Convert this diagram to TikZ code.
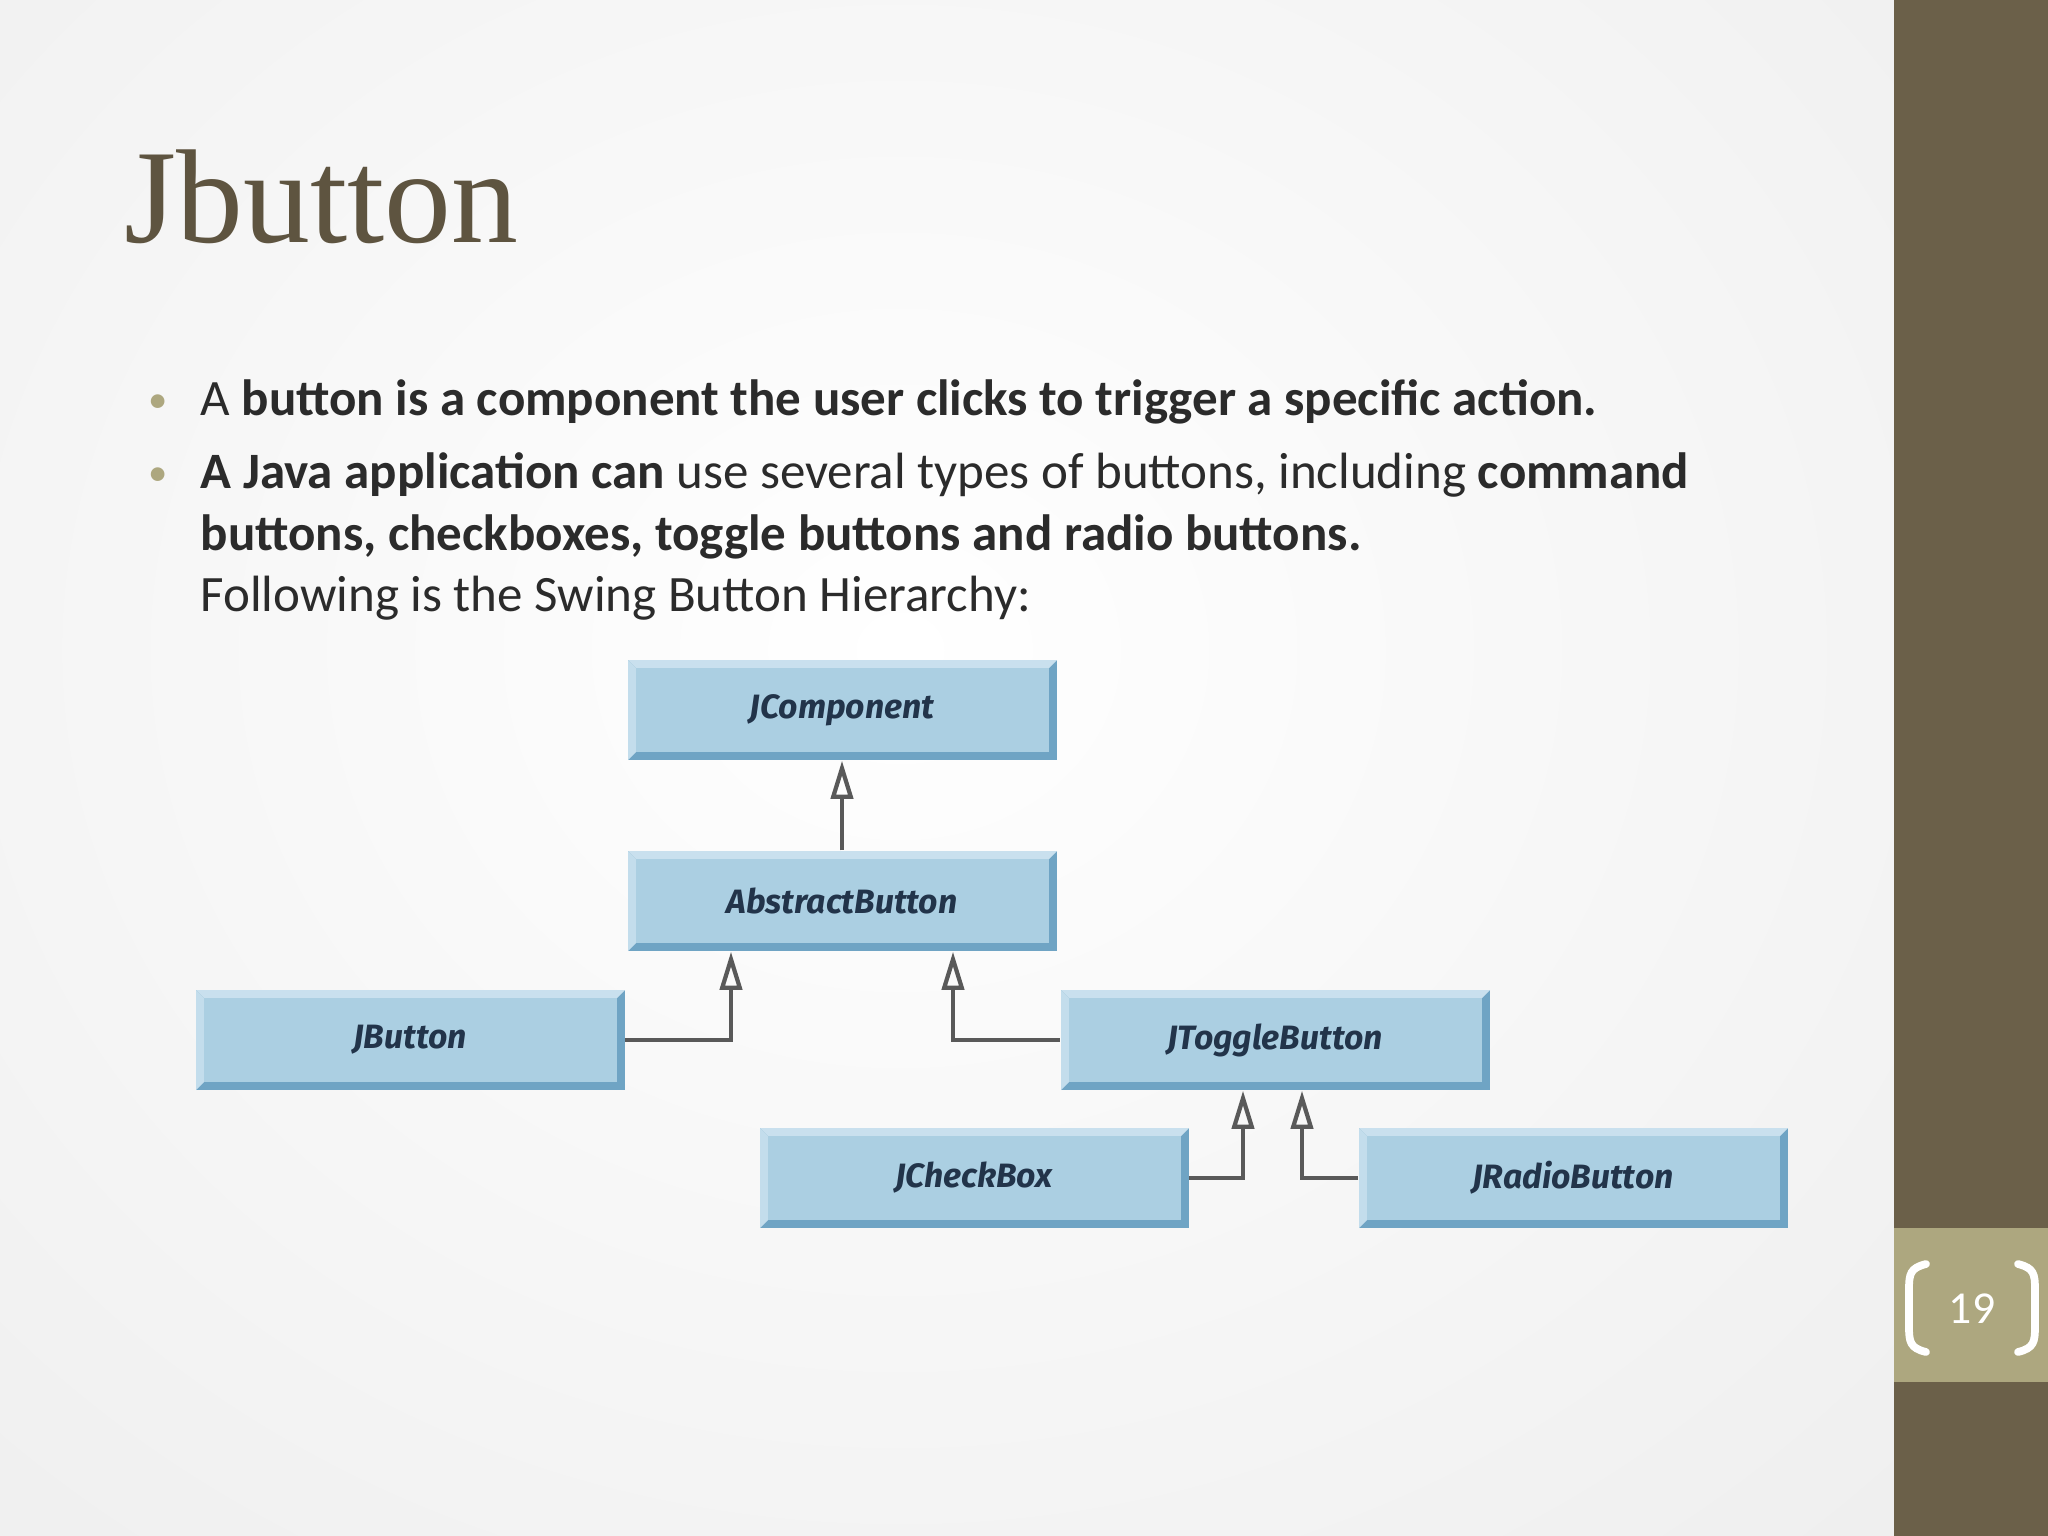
\documentclass[tikz,border=0pt]{standalone}
\usepackage{fontspec}
\setmainfont{Carlito}
\newfontfamily\titlefont{Liberation Serif}
\newfontfamily\boxfont{Fira Sans}
\usetikzlibrary{arrows.meta}
\definecolor{olivedark}{HTML}{6B6049}
\definecolor{olivelight}{HTML}{ADA77F}
\definecolor{titlecol}{HTML}{5E5440}
\definecolor{boxfill}{HTML}{ABCFE2}
\definecolor{boxdark}{HTML}{6FA4C4}
\definecolor{boxlight}{HTML}{C9E0EE}
\definecolor{boxtext}{HTML}{22344A}
\definecolor{bodytext}{HTML}{2B2B2B}
\tikzset{
  cls/.style={minimum width=4.29cm, minimum height=1cm, inner sep=0pt, font=\boxfont\bfseries\itshape\fontsize{9.6}{11}\selectfont, text=boxtext},
  inh/.style={draw=black!65, line width=1.2pt, -{Triangle[open, length=0.38cm, width=0.22cm]}},
}
\newcommand{\bevelbox}[3]{% name, center x, center y
  \fill[boxdark] (#2-214,#3-50) rectangle (#2+215,#3+50);
  \fill[boxlight] (#2-214,#3-50) -- (#2+215,#3-50) -- (#2+207,#3-42) -- (#2-206,#3-42) -- cycle;
  \fill[boxlight!80!boxfill] (#2-214,#3-50) -- (#2-206,#3-42) -- (#2-206,#3+42) -- (#2-214,#3+50) -- cycle;
  \fill[boxfill] (#2-206,#3-42) rectangle (#2+207,#3+42);
}
\begin{document}
\begin{tikzpicture}[x=0.01cm,y=-0.01cm]
\useasboundingbox (0,0) rectangle (2048,1536);
\shade[inner color=white, outer color=black!8] (-900,-900) rectangle (2700,2200);
\fill[olivedark] (1894,0) rectangle (2048,1536);
\fill[olivelight] (1894,1228) rectangle (2048,1382);
\draw[white, line width=2.2pt, line cap=round] (1926,1264) .. controls (1910,1268) and (1909,1274) .. (1909,1290) -- (1909,1326) .. controls (1909,1342) and (1910,1348) .. (1926,1352);
\draw[white, line width=2.2pt, line cap=round] (2018,1264) .. controls (2034,1268) and (2035,1274) .. (2035,1290) -- (2035,1326) .. controls (2035,1342) and (2034,1348) .. (2018,1352);
\node[text=white, font=\fontsize{13}{15}\selectfont] (pg) at (1972,1309) {19};
\node[anchor=base west, inner sep=0pt, text=titlecol, font=\titlefont\fontsize{38}{44}\selectfont] (title) at (124,242) {Jbutton};
\begin{scope}[every node/.style={anchor=base west, inner sep=0pt, text=bodytext, font=\fontsize{14.5}{17}\selectfont}]
\node (b1) at (200,415) {A \textbf{button is a component the user clicks to trigger a specific action.}};
\node (b2) at (200,488) {\textbf{A Java application can} use several types of buttons, including \textbf{command}};
\node (b3) at (200,550) {\textbf{buttons, checkboxes, toggle buttons and radio buttons.}};
\node (b4) at (200,611) {Following is the Swing Button Hierarchy:};
\node[text=olivelight, font=\fontsize{11}{13}\selectfont] (d1) at (148,412) {\textbullet};
\node[text=olivelight, font=\fontsize{11}{13}\selectfont] (d2) at (148,485) {\textbullet};
\end{scope}
\bevelbox{a}{842}{710}
\bevelbox{b}{842}{901}
\bevelbox{c}{410}{1040}
\bevelbox{d}{1275}{1040}
\bevelbox{e}{974}{1178}
\bevelbox{f}{1573}{1178}
\node[cls] (jc) at (842,710) {JComponent};
\node[cls] (ab) at (842,901) {AbstractButton};
\node[cls] (jb) at (410,1040) {JButton};
\node[cls] (jt) at (1275,1040) {JToggleButton};
\node[cls] (jx) at (974,1178) {JCheckBox};
\node[cls] (jr) at (1573,1178) {JRadioButton};
\draw[inh] (ab.north) -- (jc.south);
\draw[inh] (jb.east) -| (ab.south -| 731,0);
\draw[inh] (jt.west) -| (ab.south -| 953,0);
\draw[inh] (jx.east) -| (jt.south -| 1243,0);
\draw[inh] (jr.west) -| (jt.south -| 1302,0);
\end{tikzpicture}
\end{document}
